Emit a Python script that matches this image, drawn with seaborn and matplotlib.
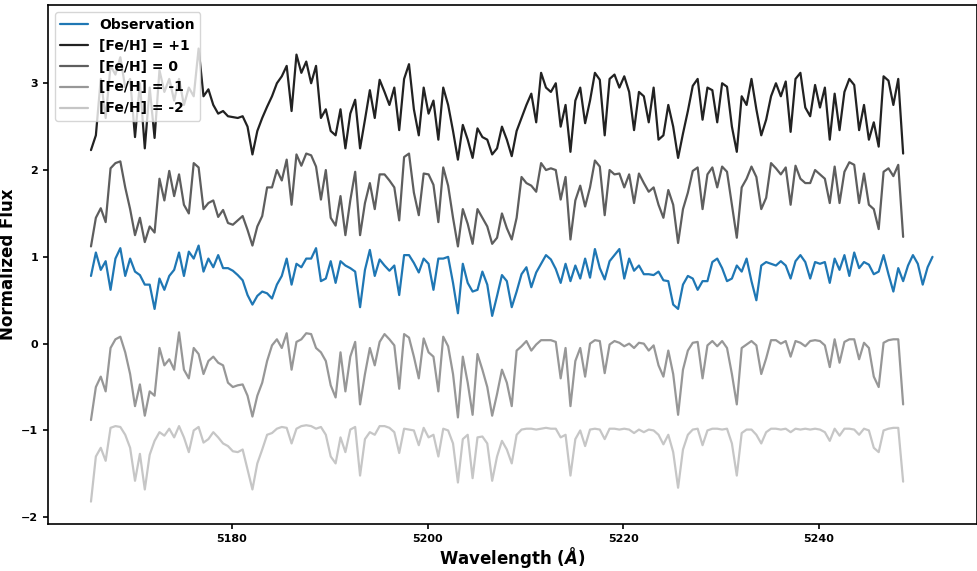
import numpy as np
import matplotlib
matplotlib.use("Agg")
import matplotlib.pyplot as plt
import seaborn as sns

# wavelength grids (0.5 A sampling)
model_wave = np.linspace(5165.6, 5248.6, 167)
obs_wave = np.linspace(5165.6, 5251.6, 173)

obs_flux = [
    0.78, 1.05, 0.85, 0.95, 0.62, 0.98, 1.10, 0.78, 0.98, 0.83,
    0.79, 0.68, 0.68, 0.40, 0.75, 0.62, 0.78, 0.85, 1.05, 0.78,
    1.06, 0.98, 1.13, 0.83, 0.98, 0.88, 1.02, 0.87, 0.87, 0.84,
    0.79, 0.73, 0.56, 0.45, 0.55, 0.60, 0.58, 0.52, 0.68, 0.78,
    0.98, 0.68, 0.92, 0.88, 0.98, 0.98, 1.10, 0.72, 0.75, 0.95,
    0.70, 0.95, 0.90, 0.87, 0.83, 0.42, 0.85, 1.08, 0.78, 0.97,
    0.90, 0.84, 0.90, 0.56, 1.02, 1.02, 0.93, 0.82, 0.98, 0.92,
    0.62, 0.98, 0.98, 1.00, 0.70, 0.35, 0.92, 0.70, 0.60, 0.62,
    0.83, 0.68, 0.32, 0.55, 0.79, 0.72, 0.42, 0.60, 0.80, 0.88,
    0.65, 0.82, 0.92, 1.02, 0.97, 0.86, 0.70, 0.92, 0.72, 0.90,
    0.75, 0.98, 0.76, 1.09, 0.87, 0.74, 0.95, 1.02, 1.09, 0.75,
    0.98, 0.84, 0.90, 0.80, 0.80, 0.79, 0.83, 0.73, 0.72, 0.45,
    0.40, 0.68, 0.78, 0.75, 0.62, 0.72, 0.72, 0.94, 0.98, 0.87,
    0.72, 0.75, 0.90, 0.83, 0.98, 0.72, 0.50, 0.90, 0.94, 0.92,
    0.90, 0.95, 0.90, 0.75, 0.95, 1.02, 0.94, 0.75, 0.94, 0.92,
    0.94, 0.70, 0.98, 0.85, 1.02, 0.78, 1.05, 0.87, 0.94, 0.91,
    0.80, 0.83, 1.02, 0.80, 0.60, 0.87, 0.72, 0.90, 1.02, 0.92,
    0.68, 0.88, 1.00,
]

feh_p1 = [
    2.23, 2.40, 3.05, 2.60, 3.20, 3.10, 3.30, 2.95, 3.05, 2.38,
    3.00, 2.25, 2.95, 2.37, 3.15, 2.90, 3.05, 2.80, 3.05, 2.75,
    2.95, 2.85, 3.40, 2.85, 2.93, 2.75, 2.65, 2.68, 2.62, 2.61,
    2.60, 2.62, 2.50, 2.18, 2.45, 2.60, 2.73, 2.85, 3.00, 3.08,
    3.20, 2.68, 3.33, 3.12, 3.25, 3.00, 3.20, 2.60, 2.70, 2.45,
    2.40, 2.70, 2.25, 2.65, 2.81, 2.25, 2.58, 2.92, 2.60, 3.04,
    2.90, 2.75, 2.95, 2.46, 3.05, 3.22, 2.70, 2.40, 2.95, 2.65,
    2.80, 2.35, 2.95, 2.75, 2.45, 2.12, 2.52, 2.35, 2.14, 2.48,
    2.38, 2.35, 2.18, 2.25, 2.50, 2.35, 2.16, 2.45, 2.60, 2.75,
    2.88, 2.55, 3.12, 2.95, 2.90, 3.00, 2.50, 2.75, 2.21, 2.80,
    2.95, 2.54, 2.80, 3.12, 3.04, 2.40, 3.05, 3.10, 2.95, 3.08,
    2.90, 2.46, 2.90, 2.85, 2.55, 2.95, 2.35, 2.40, 2.75, 2.50,
    2.14, 2.42, 2.68, 2.97, 3.05, 2.58, 2.95, 2.92, 2.55, 3.00,
    2.96, 2.50, 2.21, 2.85, 2.75, 3.05, 2.70, 2.40, 2.58, 2.85,
    3.00, 2.85, 3.02, 2.44, 3.05, 3.12, 2.72, 2.62, 2.98, 2.72,
    2.95, 2.35, 2.88, 2.46, 2.90, 3.05, 2.98, 2.46, 2.75, 2.35,
    2.55, 2.27, 3.08, 3.03, 2.75, 3.05, 2.19,
]

feh_0 = [
    1.12, 1.45, 1.56, 1.40, 2.02, 2.08, 2.10, 1.80, 1.55, 1.25,
    1.45, 1.17, 1.35, 1.28, 1.90, 1.65, 1.99, 1.70, 1.95, 1.60,
    1.50, 2.08, 2.03, 1.55, 1.62, 1.65, 1.46, 1.54, 1.39, 1.37,
    1.42, 1.47, 1.31, 1.13, 1.35, 1.47, 1.80, 1.80, 2.00, 1.88,
    2.12, 1.60, 2.18, 2.05, 2.19, 2.17, 2.04, 1.66, 2.00, 1.45,
    1.36, 1.70, 1.25, 1.65, 1.98, 1.25, 1.62, 1.85, 1.55, 1.95,
    1.95, 1.88, 1.80, 1.42, 2.15, 2.19, 1.74, 1.48, 1.96, 1.95,
    1.83, 1.40, 2.03, 1.82, 1.45, 1.12, 1.55, 1.38, 1.15, 1.55,
    1.45, 1.35, 1.15, 1.22, 1.50, 1.33, 1.20, 1.45, 1.92, 1.85,
    1.82, 1.75, 2.08, 2.00, 2.02, 2.00, 1.66, 1.92, 1.20, 1.65,
    1.82, 1.58, 1.80, 2.11, 2.04, 1.48, 2.00, 1.95, 1.96, 1.80,
    1.95, 1.62, 1.96, 1.85, 1.75, 1.80, 1.60, 1.45, 1.77, 1.60,
    1.16, 1.55, 1.74, 1.99, 2.03, 1.55, 1.95, 2.03, 1.80, 2.04,
    1.98, 1.60, 1.22, 1.80, 1.90, 2.04, 1.92, 1.55, 1.68, 2.08,
    2.02, 1.95, 2.03, 1.60, 2.05, 1.90, 1.85, 1.85, 2.00, 1.95,
    1.90, 1.62, 2.04, 1.62, 1.98, 2.09, 2.06, 1.62, 1.96, 1.60,
    1.55, 1.32, 1.98, 2.02, 1.93, 2.06, 1.23,
]

feh_m1 = [
    -0.88, -0.50, -0.38, -0.55, -0.05, 0.05, 0.08, -0.10, -0.35, -0.72,
    -0.47, -0.83, -0.55, -0.60, -0.05, -0.25, -0.18, -0.30, 0.13, -0.30,
    -0.40, -0.05, -0.12, -0.35, -0.20, -0.15, -0.22, -0.25, -0.45, -0.50,
    -0.48, -0.47, -0.60, -0.84, -0.60, -0.45, -0.20, -0.02, 0.05, -0.05,
    0.12, -0.30, 0.02, 0.05, 0.12, 0.11, -0.05, -0.10, -0.20, -0.48,
    -0.62, -0.10, -0.55, -0.15, 0.02, -0.70, -0.35, -0.05, -0.25, 0.02,
    0.11, 0.05, -0.02, -0.52, 0.11, 0.07, -0.15, -0.40, 0.06, -0.10,
    -0.15, -0.55, 0.08, -0.03, -0.35, -0.85, -0.15, -0.45, -0.82, -0.12,
    -0.30, -0.50, -0.83, -0.58, -0.30, -0.45, -0.72, -0.08, -0.03, 0.03,
    -0.08, -0.01, 0.04, 0.04, 0.04, 0.02, -0.40, -0.05, -0.72, -0.20,
    -0.05, -0.38, 0.00, 0.04, 0.03, -0.34, -0.01, 0.03, 0.01, -0.03,
    0.00, -0.05, 0.01, 0.00, -0.08, -0.02, -0.25, -0.38, -0.08, -0.35,
    -0.82, -0.30, -0.08, 0.01, 0.02, -0.40, -0.02, 0.03, -0.03, 0.03,
    -0.05, -0.35, -0.70, -0.05, -0.01, 0.03, -0.02, -0.35, -0.17, 0.04,
    0.04, 0.00, 0.03, -0.15, 0.03, 0.01, -0.03, 0.03, 0.04, 0.03,
    -0.02, -0.27, 0.05, -0.22, 0.02, 0.05, 0.05, -0.18, 0.01, -0.05,
    -0.38, -0.50, 0.01, 0.04, 0.05, 0.05, -0.70,
]

feh_m2 = [
    -1.82, -1.30, -1.20, -1.35, -0.97, -0.95, -0.96, -1.05, -1.20, -1.58,
    -1.27, -1.68, -1.28, -1.12, -1.02, -1.06, -0.98, -1.08, -0.95, -1.08,
    -1.25, -1.00, -0.96, -1.14, -1.10, -1.02, -1.08, -1.15, -1.18, -1.24,
    -1.25, -1.22, -1.45, -1.68, -1.38, -1.22, -1.05, -1.03, -0.98, -0.96,
    -0.97, -1.15, -0.98, -0.95, -0.94, -0.95, -0.98, -0.96, -1.05, -1.30,
    -1.38, -1.08, -1.25, -0.99, -0.96, -1.52, -1.10, -1.02, -1.05, -0.95,
    -0.95, -0.97, -1.02, -1.26, -0.98, -0.99, -1.00, -1.17, -0.97, -1.08,
    -1.05, -1.30, -0.98, -1.00, -1.15, -1.60, -1.10, -1.05, -1.55, -1.08,
    -1.07, -1.15, -1.58, -1.30, -1.12, -1.22, -1.38, -1.05, -0.99, -0.98,
    -0.98, -0.99, -0.98, -0.97, -0.98, -0.98, -1.08, -1.05, -1.52, -1.10,
    -1.00, -1.18, -0.99, -0.98, -0.99, -1.10, -0.98, -0.98, -0.99, -0.98,
    -0.99, -1.03, -0.99, -1.02, -0.99, -1.00, -1.05, -1.16, -1.05, -1.25,
    -1.66, -1.22, -1.05, -0.99, -0.98, -1.17, -1.00, -0.98, -0.98, -0.99,
    -0.98, -1.15, -1.52, -1.03, -0.99, -0.99, -1.05, -1.15, -1.02, -0.98,
    -0.98, -0.99, -0.98, -1.02, -0.98, -0.99, -0.98, -0.99, -0.98, -0.99,
    -1.02, -1.12, -0.98, -1.06, -0.98, -0.98, -0.99, -1.05, -0.98, -1.00,
    -1.20, -1.25, -1.00, -0.98, -0.97, -0.97, -1.59,
]

model_labels = ['[Fe/H] = +1', '[Fe/H] = 0', '[Fe/H] = -1', '[Fe/H] = -2']
model_colors = ['#222222', '#5e5e5e', '#979797', '#c6c6c6']
model_fluxes = [feh_p1, feh_0, feh_m1, feh_m2]

sns.set_style('ticks')
plt.rcParams['font.family'] = ['DejaVu Sans']
plt.rcParams['font.weight'] = 'bold'
plt.rcParams['text.color'] = 'black'
plt.rcParams['axes.labelcolor'] = 'black'
plt.rcParams['axes.edgecolor'] = 'black'
plt.rcParams['axes.linewidth'] = 1.2
plt.rcParams['xtick.color'] = 'black'
plt.rcParams['ytick.color'] = 'black'

fig, ax = plt.subplots(figsize=(9.78, 5.71), dpi=100)
fig.subplots_adjust(left=0.049, right=0.9985, top=0.991, bottom=0.082)

sns.lineplot(x=obs_wave, y=obs_flux, color='#1f77b4', lw=1.6,
             label='Observation', ax=ax)
for flux, lab, col in zip(model_fluxes, model_labels, model_colors):
    sns.lineplot(x=model_wave, y=flux, color=col, lw=1.6, label=lab, ax=ax)

ax.set_xlim(5161.2, 5256.1)
ax.set_ylim(-2.08, 3.90)
ax.set_xticks([5180, 5200, 5220, 5240])
ax.set_yticks([-2, -1, 0, 1, 2, 3])
ax.tick_params(labelsize=8, width=1.2)
for lbl in ax.get_xticklabels() + ax.get_yticklabels():
    lbl.set_fontweight('bold')

ax.set_xlabel(r'Wavelength ($\AA$)', fontsize=12, fontweight='bold', labelpad=1)
ax.set_ylabel('Normalized Flux', fontsize=12, fontweight='bold', labelpad=3)
ax.legend(loc='upper left', prop={'weight': 'bold', 'size': 10})

plt.savefig('out.png', dpi=100)
plt.close()
